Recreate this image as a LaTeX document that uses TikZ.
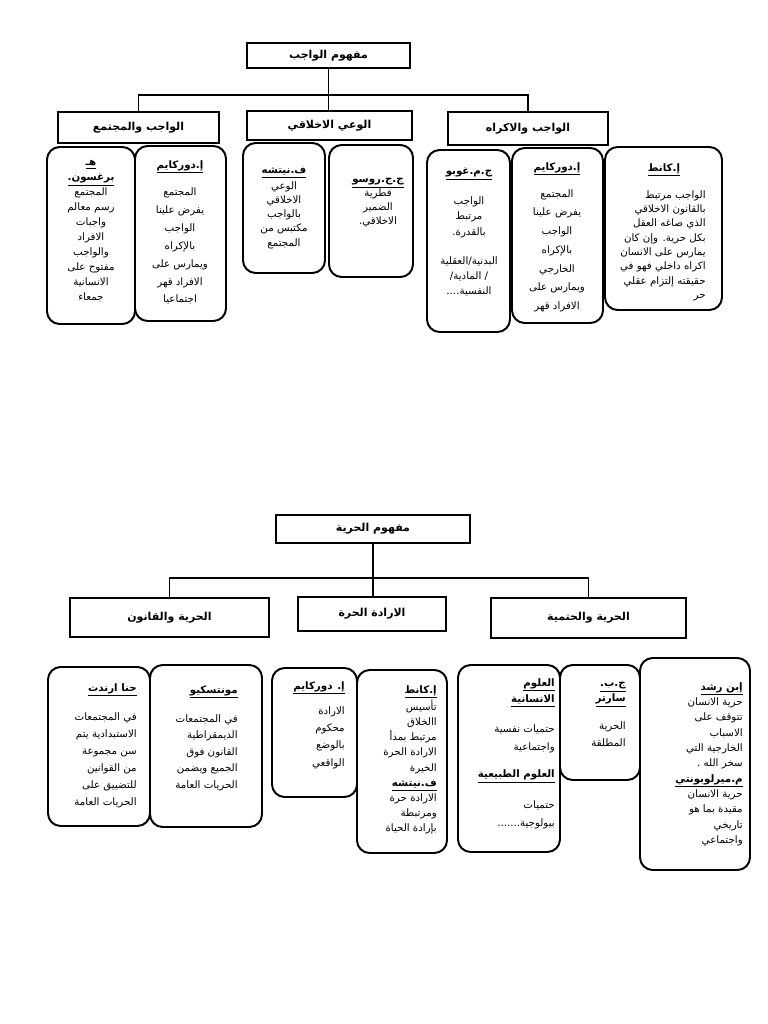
\documentclass[tikz,border=0pt]{standalone}
\usepackage{fontspec}
\newfontfamily\arabicfont[Script=Arabic]{DejaVu Sans}
\TeXXeTstate=1
\usetikzlibrary{positioning,fit}

\newcommand\artx[1]{\beginR #1\endR}
\newcommand\arhd[1]{\underline{\bfseries\beginR #1\endR}}

\begin{document}
\begin{tikzpicture}[
    x=0.025cm, y=-0.025cm,
    topbox/.style={draw, rectangle, line width=1.6pt, inner sep=0pt, font=\arabicfont\bfseries\fontsize{7.8}{10}\selectfont},
    card/.style={draw, rectangle, rounded corners=9pt, line width=1.4pt, inner sep=0pt},
    body/.style={inner sep=0pt, align=center, font=\arabicfont\fontsize{7.3}{#1}\selectfont},
    body/.default=11pt,
    rbody/.style={body=#1, align=right, anchor=north east},
    rbody/.default=11pt,
    link/.style={line width=1.3pt}
  ]
    \useasboundingbox (0,0) rectangle (768,1024);

    % --- duty ---
    \node (dutyRoot) [topbox, minimum width=4.075cm, minimum height=0.625cm] at (328.5,55.5) {\artx{مفهوم الواجب}};
    \node (dutySoc) [topbox, minimum width=4.025cm, minimum height=0.775cm] at (138.5,127.5) {\artx{الواجب والمجتمع}};
    \node (moral) [topbox, minimum width=4.125cm, minimum height=0.725cm] at (329.5,125.5) {\artx{الوعي الاخلاقي}};
    \node (dutyCoe) [topbox, minimum width=4.0cm, minimum height=0.825cm] at (528,128.5) {\artx{الواجب والاكراه}};
    \coordinate (dutyBus) at (0,95);

    \draw [link] (dutyRoot.south) -- (dutyRoot.south |- moral.north);
    \draw [link] (dutySoc.north) -- (dutySoc.north |- dutyBus) -- (dutyCoe.north |- dutyBus) -- (dutyCoe.north);

    \node (bergson) [card, fit={(47,147) (135,324)}] {};
    \node (durkA) [card, fit={(135,146) (226,321)}] {};
    \node (nietzA) [card, fit={(243,143) (325,273)}] {};
    \node (rousseau) [card, fit={(329,145) (413,277)}] {};
    \node (gobbo) [card, fit={(427,150) (510,332)}] {};
    \node (durkB) [card, fit={(512,148) (603,323)}] {};
    \node (kantA) [card, fit={(605,147) (722,310)}] {};

    \node (bergsonTxt) [body=10.7pt, anchor=north] at (91,160) {\arhd{هـ}\\\arhd{برغسون.}\\\artx{المجتمع}\\\artx{رسم معالم}\\\artx{واجبات}\\\artx{الافراد}\\\artx{والواجب}\\\artx{مفتوح على}\\\artx{الانسانية}\\\artx{جمعاء}};
    \node (durkATxt) [body=12.7pt, anchor=north] at (180,160) {\arhd{إ.دوركايم}\\[7pt]\artx{المجتمع}\\\artx{يفرض علينا}\\\artx{الواجب}\\\artx{بالإكراه}\\\artx{ويمارس على}\\\artx{الافراد قهر}\\\artx{اجتماعيا}};
    \node (nietzATxt) [body=10pt, anchor=north] at (284,167) {\arhd{ف.نيتشه}\\[1.4pt]\artx{الوعي}\\\artx{الاخلاقي}\\\artx{بالواجب}\\\artx{مكتبس من}\\\artx{المجتمع}};
    \node (rousseauTxt) [body=10pt, anchor=north] at (378,178) {\arhd{ج.ج.روسو}\\\artx{فطرية}\\\artx{الضمير}\\\artx{الاخلاقي.}};
    \node (gobboTxt) [body=10.7pt, anchor=north] at (469,168) {\arhd{ج.م.غوبو}\\[10.6pt]\artx{الواجب}\\\artx{مرتبط}\\\artx{بالقدرة.}\\[10pt]\artx{البدنية/العقلية}\\\artx{/ المادية/}\\\artx{النفسية....}};
    \node (durkBTxt) [body=13.3pt, anchor=north] at (557,162) {\arhd{إ.دوركايم}\\[6pt]\artx{المجتمع}\\\artx{يفرض علينا}\\\artx{الواجب}\\\artx{بالإكراه}\\\artx{الخارجي}\\\artx{ويمارس على}\\\artx{الافراد قهر}};
    \node (kantAHd) [body, anchor=north] at (664,163) {\arhd{إ.كانط}};
    \node (kantATxt) [rbody=10.2pt] at (706,190) {\artx{الواجب مرتبط}\\\artx{بالقانون الاخلاقي}\\\artx{الذي صاغه العقل}\\\artx{بكل حرية. وإن كان}\\\artx{يمارس على الانسان}\\\artx{اكراه داخلي فهو في}\\\artx{حقيقته إلتزام عقلي}\\\artx{حر}};

    % --- liberty ---
    \node (libRoot) [topbox, minimum width=4.85cm, minimum height=0.7cm] at (373,529) {\artx{مفهوم الحرية}};
    \node (libLaw) [topbox, minimum width=4.975cm, minimum height=0.975cm] at (169.5,617.5) {\artx{الحرية والقانون}};
    \node (freeWill) [topbox, minimum width=3.7cm, minimum height=0.85cm] at (372,614) {\artx{الارادة الحرة}};
    \node (libDet) [topbox, minimum width=4.875cm, minimum height=1.0cm] at (588.5,618) {\artx{الحرية والحتمية}};
    \coordinate (libBus) at (0,578);

    \draw [link] (libRoot.south) -- (libRoot.south |- freeWill.north);
    \draw [link] (libLaw.north) -- (libLaw.north |- libBus) -- (libDet.north |- libBus) -- (libDet.north);

    \node (arendt) [card, fit={(48,667) (150,826)}] {};
    \node (montes) [card, fit={(150,665) (262,827)}] {};
    \node (durkC) [card, fit={(272,668) (357,797)}] {};
    \node (kantB) [card, fit={(357,670) (447,853)}] {};
    \node (sciences) [card, fit={(458,665) (560,852)}] {};
    \node (sartre) [card, fit={(560,665) (640,780)}] {};
    \node (rushd) [card, fit={(640,658) (750,870)}] {};

    \node (arendtTxt) [rbody=12.1pt] at (137,683) {\arhd{حنا ارندت}\\[9pt]\artx{في المجتمعات}\\\artx{الاستبدادية يتم}\\\artx{سن مجموعة}\\\artx{من القوانين}\\\artx{للتضييق على}\\\artx{الحريات العامة}};
    \node (montesTxt) [rbody=11.7pt] at (238,685) {\arhd{مونتسكيو}\\[9pt]\artx{في المجتمعات}\\\artx{الديمقراطية}\\\artx{القانون فوق}\\\artx{الجميع ويضمن}\\\artx{الحريات العامة}};
    \node (durkCTxt) [rbody=12.3pt] at (345,681) {\arhd{إ. دوركايم}\\[5.5pt]\artx{الارادة}\\\artx{محكوم}\\\artx{بالوضع}\\\artx{الواقعي}};
    \node (kantBTxt) [rbody=10.8pt] at (437,685) {\arhd{إ.كانط}\\\artx{تأسيس}\\\artx{االخلاق}\\\artx{مرتبط بمدأ}\\\artx{الارادة الحرة}\\\artx{الخيرة}\\\arhd{ف.نيتشه}\\\artx{الارادة حرة}\\\artx{ومرتبطة}\\\artx{بإرادة الحياة}};
    \node (sciencesTxt) [rbody=13pt] at (555,678) {\arhd{العلوم}\\[-1.6pt]\arhd{الانسانية}\\[8.3pt]\artx{حتميات نفسية}\\\artx{واجتماعية}\\[6.2pt]\arhd{العلوم الطبيعية}\\[9pt]\artx{حتميات}\\\artx{بيولوجية.......}};
    \node (sartreTxt) [rbody=10.7pt] at (626,682) {\arhd{ج.ب.}\\\arhd{سارتر}\\[9.3pt]\artx{الحرية}\\[1.3pt]\artx{المطلقة}};
    \node (rushdTxt) [rbody=10.9pt] at (743,682) {\arhd{إبن رشد}\\\artx{حرية الانسان}\\\artx{تتوقف على}\\\artx{الاسباب}\\\artx{الخارجية التي}\\\artx{سخر الله .}\\\arhd{م.ميرلوبونتي}\\\artx{حرية الانسان}\\\artx{مقيدة بما هو}\\\artx{تاريخي}\\\artx{واجتماعي}};
\end{tikzpicture}
\end{document}
